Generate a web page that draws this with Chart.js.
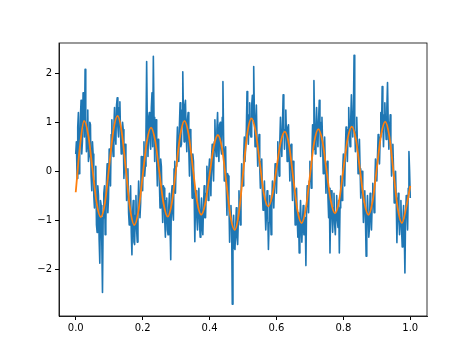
<!DOCTYPE html>
<html lang="en">
<head>
    <meta charset="UTF-8">
    <title>Noisy signal and filtered signal</title>
    <script src="https://cdn.jsdelivr.net/npm/chart.js"></script>
    <style>
        body { margin: 0; padding: 0; background: #fff; }
        #chart { display: block; }
    </style>
</head>
<body>

<canvas id="chart" width="474" height="355"></canvas>

<script>
    const rawSignal = [
        0.35, 0.6, -0.15, 0.9, 1.2, -0.05, 0.45, 1.1, 1.45, 0.35, 0.6, 1.6, 1.35, 0.7, 2.08, 1.15, 0.4, 0.6, 1.25, 0.2, 0.3, 1.0, 0.95, -0.1, -0.4, 0.6, 0.35, -0.5, -0.75, -0.2, 0.1, -1.1, -1.25, -0.3, -0.5, -1.4, -1.88, -0.6, -0.7, -1.5, -2.48, -0.95, -0.45, -0.3, -1.3, -1.05, -0.2, 0.15, -0.85, -0.55,
        0.45, 0.2, -0.3, 0.75, 1.05, 0.5, 0.3, 0.9, 1.3, 0.7, 0.55, 1.35, 1.5, 0.9, 0.7, 1.3, 1.42, 0.75, 0.35, 0.5, 1.0, 0.85, -0.15, 0.1, 0.55, 0.3, -0.6, -0.3, 0.05, -0.85, -1.1, -0.6, -0.3, -1.25, -1.71, -0.85, -0.6, -1.45, -1.5, -0.9, -0.5, -1.2, -1.45, -0.8, -0.2, -0.5, -0.95, -0.65, 0.3, 0.15,
        -0.4, 0.3, 0.6, -0.1, 0.1, 0.8, 2.24, 0.95, 0.3, 1.1, 1.2, 0.6, 0.45, 1.3, 1.6, 0.5, 2.35, 1.1, 0.2, 0.9, 1.05, 0.2, -0.3, 0.65, 0.6, -0.2, -0.75, 0.25, 0.1, -0.6, -1.05, -0.3, -0.35, -1.0, -1.35, -0.6, -0.55, -1.2, -1.3, -0.75, -0.45, -1.15, -1.81, -0.5, -0.3, -0.85, -1.0, 0.05, 0.2, -0.45,
        0.1, 0.45, 0.9, 0.35, 0.2, 0.95, 1.4, 0.5, 0.55, 1.25, 2.03, 1.1, 0.6, 1.35, 1.45, 0.8, 0.4, 1.05, 1.2, 0.45, -0.1, 0.85, 0.75, 0.05, -0.55, 0.35, 0.2, -0.45, -1.44, -0.6, -0.4, -0.95, -1.2, -0.7, -0.35, -1.05, -1.35, -0.8, -0.55, -1.15, -1.3, -0.7, -0.3, -0.95, -0.95, -0.45, 0.1, -0.2, -0.6, 0.05,
        0.25, -0.1, -0.5, 0.3, 0.55, 0.05, -0.2, 0.6, 1.05, 0.45, 0.3, 0.85, 1.2, 0.6, 0.2, 0.95, 1.0, 0.45, 0.35, 1.1, 1.83, 0.7, -0.2, 0.35, 0.5, -0.35, -0.9, -0.05, -0.1, -0.65, -1.45, -0.95, -0.7, -1.1, -2.72, -1.3, -0.9, -1.55, -1.6, -1.2, -0.75, -1.35, -1.5, -1.0, -0.4, -0.85, -1.1, -0.6, 0.15, -0.3,
        -0.3, 0.3, 0.7, 0.2, 0.2, 0.85, 1.63, 0.9, 0.55, 1.15, 1.4, 0.75, 0.7, 1.35, 1.55, 1.05, 2.14, 1.2, 0.5, 0.95, 1.35, 0.6, 0.1, 0.55, 0.75, 0.1, -0.35, 0.2, 0.25, -0.45, -0.8, -0.55, -0.2, -0.75, -1.2, -0.9, -0.4, -0.85, -1.6, -1.05, -0.5, -0.8, -1.3, -0.65, -0.2, -0.45, -0.75, -0.3, 0.15, 0.0,
        -0.45, 0.15, 0.6, 0.2, -0.1, 0.6, 1.1, 0.55, 0.3, 0.95, 1.56, 1.0, 0.45, 0.85, 1.25, 0.7, 0.2, 0.9, 0.95, 0.45, -0.2, 0.5, 0.55, -0.1, -0.6, 0.2, 0.05, -0.5, -1.1, -0.4, -0.35, -0.95, -1.35, -0.85, -1.67, -1.1, -0.6, -1.2, -1.45, -1.0, -0.7, -1.3, -1.3, -0.95, -1.93, -0.75, -0.3, -0.6, -0.85, -0.2,
        0.2, -0.1, -0.35, 0.4, 0.95, 0.45, 1.85, 0.9, 0.35, 0.8, 1.3, 0.75, 0.5, 1.05, 1.45, 0.85, 0.3, 1.0, 1.1, 0.55, -0.05, 0.45, 0.7, 0.15, -0.45, 0.1, 0.2, -0.55, -0.95, -0.35, -1.67, -0.8, -0.4, -0.9, -1.25, -0.75, -0.45, -1.1, -1.3, -0.85, -0.5, -1.0, -1.15, -0.6, -1.67, -0.75, -0.1, -0.35, -0.6, 0.05,
        0.35, 0.05, -0.3, 0.45, 0.9, 0.5, 0.2, 0.85, 1.3, 0.75, 0.5, 1.05, 1.56, 1.0, 0.7, 1.2, 2.37, 0.9, 0.4, 0.8, 1.1, 0.55, -0.05, 0.35, 0.65, 0.05, -0.55, -0.3, 0.0, -0.5, -1.05, -0.65, -0.4, -0.95, -1.74, -1.05, -0.5, -0.9, -1.35, -1.15, -0.45, -0.8, -1.2, -0.7, -0.25, -0.6, -0.85, -0.25, 0.25, -0.1,
        -0.2, 0.3, 0.75, 0.35, 0.15, 0.7, 1.2, 0.8, 1.73, 1.0, 0.5, 1.15, 1.4, 0.95, 0.65, 1.3, 1.81, 1.0, 0.45, 0.75, 1.15, 0.6, -0.1, 0.25, 0.55, 0.05, -0.65, -0.3, 0.0, -0.55, -1.46, -0.8, -0.45, -1.0, -1.3, -0.95, -0.6, -1.2, -1.55, -1.05, -0.7, -1.25, -2.08, -0.9, -0.5, -0.8, -1.2, -0.35, 0.4, 0.0,
        -0.55
    ];

    // Filtered signal, sampled every 0.0125 from 0 to 1
    const filtered = [
        -0.43, 0.5, 1.03, 0.74, 0.05, -0.65, -0.94, -0.64, 0.1, 0.83,
        1.13, 0.8, 0.02, -0.77, -1.1, -0.81, -0.1, 0.6, 0.89, 0.62,
        -0.02, -0.66, -0.93, -0.64, 0.05, 0.74, 1.03, 0.75, 0.07, -0.61,
        -0.89, -0.65, -0.08, 0.5, 0.74, 0.46, -0.23, -0.92, -1.2, -0.87,
        -0.06, 0.75, 1.08, 0.82, 0.18, -0.46, -0.72, -0.5, 0.05, 0.59,
        0.81, 0.54, -0.13, -0.79, -1.06, -0.78, -0.1, 0.58, 0.86, 0.61,
        0, -0.61, -0.86, -0.6, 0.03, 0.65, 0.91, 0.65, 0.01, -0.63,
        -0.89, -0.61, 0.06, 0.73, 1.01, 0.71, -0.03, -0.76, -1.06, -0.75,
        -0.3
    ];

    const xTicks = [0, 0.2, 0.4, 0.6, 0.8, 1.0];
    const yTicks = [-2, -1, 0, 1, 2];

    const rawPoints = rawSignal.map((v, i) => ({ x: i / (rawSignal.length - 1), y: v }));
    const filteredPoints = filtered.map((v, i) => ({ x: i / (filtered.length - 1), y: v }));

    // matplotlib style closed frame round the plot area
    const frame = {
        id: 'frame',
        afterDraw(chart) {
            const a = chart.chartArea;
            const c = chart.ctx;
            c.save();
            c.strokeStyle = '#000';
            c.lineWidth = 0.8;
            c.strokeRect(a.left, a.top, a.right - a.left, a.bottom - a.top);
            c.restore();
        }
    };

    const ctx = document.getElementById('chart').getContext('2d');
    new Chart(ctx, {
        type: 'line',
        data: {
            datasets: [
                {
                    data: filteredPoints,
                    borderColor: '#ff7f0e',
                    borderWidth: 1.8,
                    borderJoinStyle: 'round',
                    pointRadius: 0,
                    cubicInterpolationMode: 'monotone',
                    order: 0
                },
                {
                    data: rawPoints,
                    borderColor: '#1f77b4',
                    borderWidth: 1.6,
                    borderJoinStyle: 'round',
                    pointRadius: 0,
                    tension: 0,
                    order: 1
                }
            ]
        },
        options: {
            responsive: false,
            animation: false,
            devicePixelRatio: 1,
            layout: { padding: { left: 0, right: 47, top: 43, bottom: 0 } },
            plugins: { legend: { display: false }, tooltip: { enabled: false } },
            scales: {
                x: {
                    type: 'linear',
                    min: -0.05,
                    max: 1.05,
                    afterBuildTicks: s => { s.ticks = xTicks.map(v => ({ value: v })); },
                    afterFit: s => { s.height = 39; },
                    grid: { drawOnChartArea: false, color: '#000', tickLength: 4 },
                    border: { display: true, color: '#000', width: 0.8 },
                    ticks: {
                        color: '#000',
                        padding: 2,
                        maxRotation: 0,
                        font: { family: 'DejaVu Sans', size: 10 },
                        callback: v => v.toFixed(1)
                    }
                },
                y: {
                    min: -2.96,
                    max: 2.62,
                    afterBuildTicks: s => { s.ticks = yTicks.map(v => ({ value: v })); },
                    afterFit: s => { s.width = 59; },
                    grid: { drawOnChartArea: false, color: '#000', tickLength: 4 },
                    border: { display: true, color: '#000', width: 0.8 },
                    ticks: {
                        color: '#000',
                        padding: 3,
                        font: { family: 'DejaVu Sans', size: 10 },
                        callback: v => (v < 0 ? '\u2212' + Math.abs(v) : String(v))
                    }
                }
            }
        },
        plugins: [frame]
    });
</script>

</body>
</html>
